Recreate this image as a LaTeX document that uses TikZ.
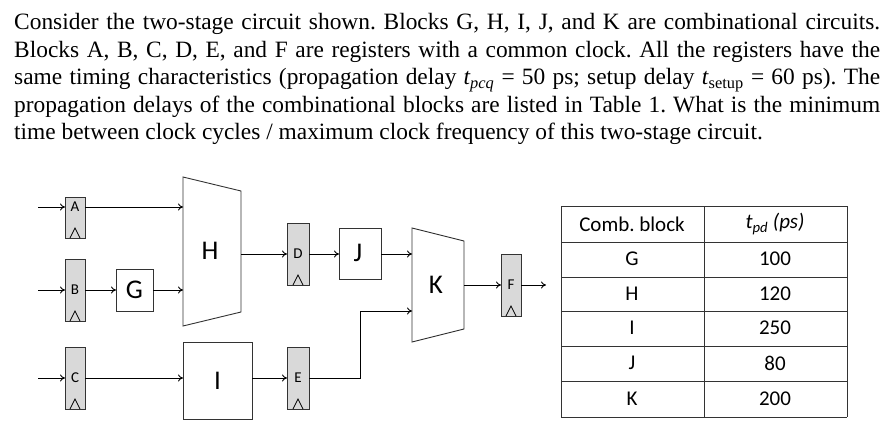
\documentclass[tikz,border=0pt]{standalone}
\usepackage{fontspec}
\setmainfont{Liberation Serif}
\newfontfamily\carlfont{Carlito}
\usetikzlibrary{arrows.meta}
\begin{document}
\frenchspacing
\begin{tikzpicture}[x=1pt,y=-1pt,
  reg/.style={draw=black!80,fill=black!15,line width=0.9pt},
  blk/.style={draw=black!80,line width=0.9pt},
  wire/.style={line width=0.9pt,-{To[length=5pt,width=7pt]}},
  rl/.style={font=\carlfont\fontsize{15}{15}\selectfont},
  bl/.style={font=\carlfont\fontsize{27}{27}\selectfont},
  tl/.style={font=\carlfont\fontsize{21}{21}\selectfont}]
\useasboundingbox (0,0) rectangle (894,436);
\node[anchor=north west,inner sep=0,text width=866pt,align=justify,font=\fontsize{23.4}{27.6}\selectfont] (txt) at (14,13)
{Consider the two-stage circuit shown. Blocks G, H, I, J, and K are combinational circuits.\linebreak Blocks A, B, C, D, E, and F are registers with a common clock. All the registers have the\linebreak same timing characteristics (propagation delay \textit{t\textsubscript{pcq}} = 50 ps; setup delay \textit{t}\textsubscript{setup} = 60 ps). The\linebreak propagation delays of the combinational blocks are listed in Table 1. What is the minimum\linebreak time between clock cycles / maximum clock frequency of this two-stage circuit.};
% registers
\draw[reg] (65,197) rectangle (85,238); \draw[line width=0.8pt] (70,238)--(75,228)--(80,238);
\node[rl,inner sep=0] (A) at (75,207) {A};
\draw[reg] (65,259) rectangle (85,321); \draw[line width=0.8pt] (70,321)--(75,311)--(80,321);
\node[rl,inner sep=0] (B) at (75,290) {B};
\draw[reg] (65,347) rectangle (85,409); \draw[line width=0.8pt] (70,409)--(75,399)--(80,409);
\node[rl,inner sep=0] (C) at (75,378) {C};
\draw[reg] (287,223) rectangle (309,285); \draw[line width=0.8pt] (293,285)--(298,275)--(303,285);
\node[rl,inner sep=0] (D) at (298,254) {D};
\draw[reg] (287,347) rectangle (309,409); \draw[line width=0.8pt] (293,409)--(298,399)--(303,409);
\node[rl,inner sep=0] (E) at (298,378) {E};
\draw[reg] (501,254) rectangle (521,316); \draw[line width=0.8pt] (506,316)--(511,306)--(516,316);
\node[rl,inner sep=0] (F) at (511,285) {F};
% comb blocks
\draw[blk] (116,269) rectangle (153,311); \node[bl] (G) at (134.5,290) {G};
\draw[blk] (183,177) -- (241,191) -- (241,312) -- (183,326) -- cycle; \node[bl] (H) at (210,251) {H};
\draw[blk] (183,342) rectangle (252,419); \node[bl] (I) at (217.5,381) {I};
\draw[blk] (339,228) rectangle (381,279); \node[bl] (J) at (358,253) {J};
\draw[blk] (412,228) -- (464,241) -- (464,329) -- (412,342) -- cycle; \node[bl] (K) at (436,285) {K};
% wires
\coordinate (inA) at (38,207); \coordinate (inB) at (38,290); \coordinate (inC) at (38,378);
\draw[wire] (inA) -- (65,207);
\draw[wire] (inB) -- (65,290);
\draw[wire] (inC) -- (65,378);
\draw[wire] (85,207) -- (183,207);
\draw[wire] (85,290) -- (116,290);
\draw[wire] (153,290) -- (183,290);
\draw[wire] (85,378) -- (183,378);
\draw[wire] (241,254) -- (287,254);
\draw[wire] (252,378) -- (287,378);
\draw[wire] (309,254) -- (339,254);
\draw[wire] (381,254) -- (412,254);
\draw[wire] (309,378) -- (360,378) -- (360,311) -- (412,311);
\draw[wire] (464,285) -- (501,285);
\coordinate (outF) at (546,285);
\draw[wire] (521,285) -- (outF);
% table
\draw[line width=0.6pt,black!80] (561,206) -- (847,206) (561,242) -- (847,242) (561,277) -- (847,277) (561,311) -- (847,311)
  (561,346) -- (847,346) (561,381) -- (847,381) (561,417) -- (847,417)
  (561,206) -- (561,417) (704,206) -- (704,417) (847,206) -- (847,417);
\node[tl] (h1) at (632,224) {Comb. block};
\node[tl] (h2) at (775,224) {\textit{t\textsubscript{pd}} \textit{(ps)}};
\node[tl] (g1) at (632,259) {G}; \node[tl] (g2) at (775,259) {100};
\node[tl] (r1) at (632,294) {H}; \node[tl] (r2) at (775,294) {120};
\node[tl] (i1) at (632,328) {I}; \node[tl] (i2) at (775,328) {250};
\node[tl] (j1) at (632,363) {J}; \node[tl] (j2) at (775,363) {80};
\node[tl] (k1) at (632,399) {K}; \node[tl] (k2) at (775,399) {200};
\end{tikzpicture}
\end{document}
